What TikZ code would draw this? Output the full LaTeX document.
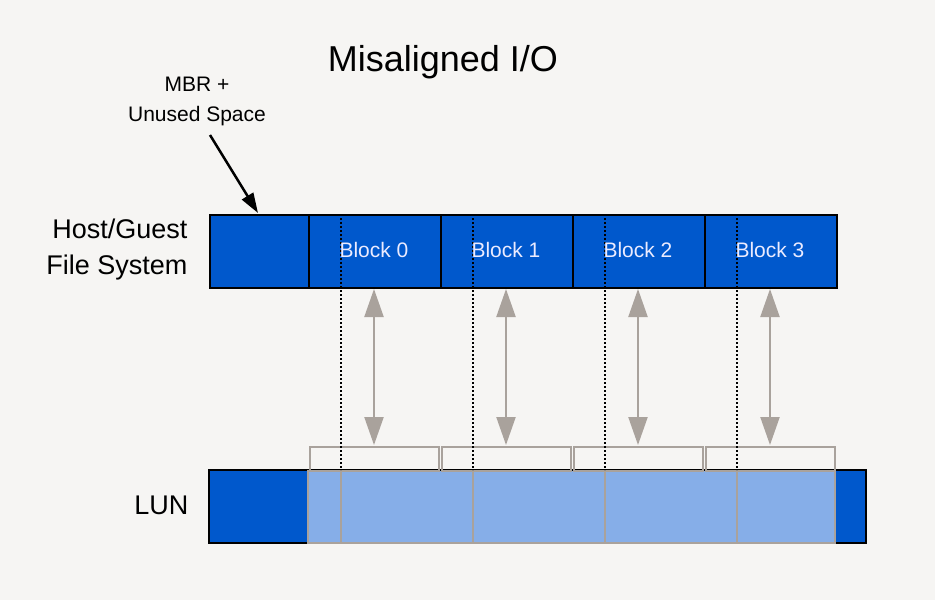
\documentclass[tikz,border=0pt]{standalone}
\usepackage{fontspec}
\setmainfont{Liberation Sans}
\usetikzlibrary{arrows.meta}
\definecolor{bg}{HTML}{F6F5F3}
\definecolor{blu}{HTML}{0058CC}
\definecolor{lblu}{HTML}{86AEE8}
\definecolor{gry}{HTML}{A9A29C}
\tikzset{
 blk/.style={draw=black,line width=1.6pt,fill=blu},
 dots/.style={black,line width=1.6pt,dash pattern=on 2pt off 2pt},
 gbox/.style={draw=gry,line width=1.6pt},
 garr/.style={gry,line width=2.2pt,{Triangle[width=19pt,length=28pt]}-{Triangle[width=19pt,length=28pt]}},
 lbl/.style={font=\fontsize{21}{24}\selectfont,text=white!92!blue}
}
\begin{document}
\begin{tikzpicture}[x=1pt,y=-1pt]
\useasboundingbox (0,0) rectangle (935,600);
\fill[bg] (0,0) rectangle (935,600);
\node (title) at (443,62) {\fontsize{36}{40}\selectfont Misaligned I/O};
\node[align=center,font=\fontsize{21}{30}\selectfont] (mbr) at (197,101) {MBR +\\Unused Space};
\node[align=right,anchor=east,font=\fontsize{27}{36}\selectfont] (host) at (191,250) {Host/Guest\\File System};
\node[anchor=east,font=\fontsize{27}{30}\selectfont] (lun) at (192,505) {LUN};
% LUN bar
\fill[blu] (209,470) rectangle (866,543);
\fill[lblu] (308,470) rectangle (835,543);
\draw[black,line width=1.6pt] (209,470) rectangle (866,543);
\draw[gry,line width=1.6pt] (308,470) -- (308,543) -- (835,543) -- (835,470);
% host bar
\node[blk,minimum width=99pt,minimum height=73pt,inner sep=0,anchor=north west] (mbrblk) at (209,214) {};
\foreach \i/\x in {0/308,1/440,2/572,3/704}{
  \node[blk,minimum width=132pt,minimum height=73pt,inner sep=0,anchor=north west] (b\i) at (\x,214) {};
  \node[gbox,minimum width=129pt,minimum height=24pt,inner sep=0,anchor=north west] (g\i) at (\x+1,446) {};
  \draw[gry,line width=1.6pt] (\x+33,470) -- (\x+33,543);
  \draw[dots] (\x+33,214) -- (\x+33,470);
  \node[lbl] at (\x+66,250) {Block \i};
  \coordinate (t\i) at (\x+66,289);
  \coordinate (u\i) at (\x+66,445);
  \draw[garr] (t\i) -- (u\i);
}
\coordinate (mbrtail) at (210,135);
\draw[-{Triangle[width=13pt,length=20pt]},line width=2.5pt] (mbrtail) -- (258,213);
\end{tikzpicture}
\end{document}
